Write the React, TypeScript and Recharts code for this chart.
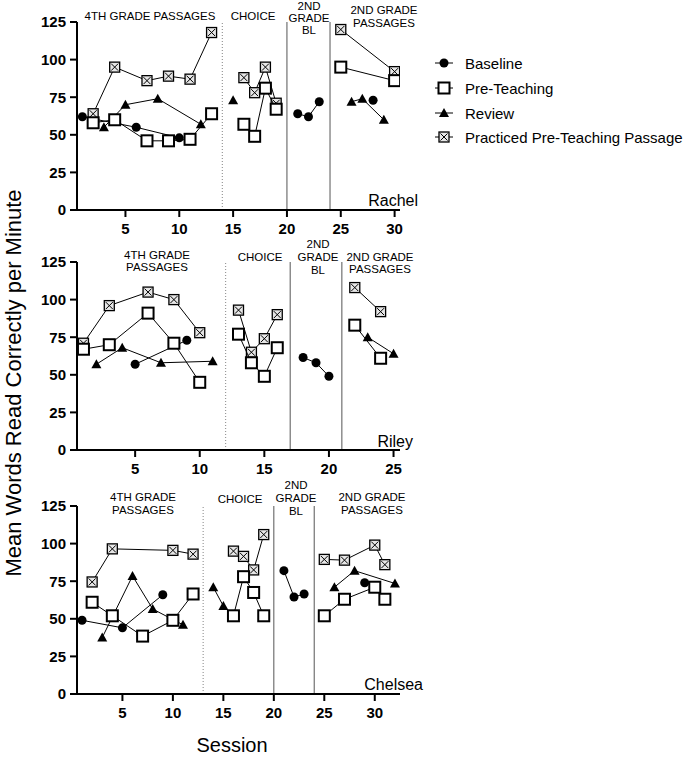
import React from 'react';
import { ScatterChart, Scatter, XAxis, YAxis, ReferenceLine } from 'recharts';

type Pt = [number, number];

// ---------- data ----------
const yTicks = [0, 25, 50, 75, 100, 125];
const seriesNames = ['Baseline', 'Pre-Teaching', 'Review', 'Practiced Pre-Teaching Passage'];

// Rachel
const rachelBaseline: Pt[] = [[1, 62], [6, 55], [10, 48], [21, 64], [22, 62], [23, 72], [28, 73]];
const rachelPreTeaching: Pt[] = [[2, 58], [4, 60], [7, 46], [9, 46], [11, 47], [13, 64], [16, 57], [17, 49], [18, 81], [19, 67], [25, 95], [30, 86]];
const rachelReview: Pt[] = [[3, 55], [5, 70], [8, 74], [12, 57], [15, 73], [26, 72], [27, 74], [29, 60]];
const rachelPracticed: Pt[] = [[2, 64], [4, 95], [7, 86], [9, 89], [11, 87], [13, 118], [16, 88], [17, 78], [18, 95], [19, 71], [25, 120], [30, 92]];
const rachelBreaks = [14, 20, 24];
const rachelTicks = [5, 10, 15, 20, 25, 30];

// Riley
const rileyBaseline: Pt[] = [[5, 57], [9, 73], [18, 61.5], [19, 58], [20, 49]];
const rileyPreTeaching: Pt[] = [[1, 67], [3, 70], [6, 91], [8, 71], [10, 45], [13, 77], [14, 58], [15, 49], [16, 68], [22, 83], [24, 61]];
const rileyReview: Pt[] = [[2, 57], [4, 68], [7, 58], [11, 59], [23, 75], [25, 64]];
const rileyPracticed: Pt[] = [[1, 71], [3, 96], [6, 105], [8, 100], [10, 78], [13, 93], [14, 65], [15, 74], [16, 90], [22, 108], [24, 92]];
const rileyBreaks = [12, 17, 21];
const rileyTicks = [5, 10, 15, 20, 25];

// Chelsea
const chelseaBaseline: Pt[] = [[1, 49], [5, 44], [9, 66], [21, 82], [22, 64.5], [23, 66.5], [29, 74]];
const chelseaPreTeaching: Pt[] = [[2, 61], [4, 52], [7, 38.5], [10, 49], [12, 66.5], [16, 52], [17, 78], [18, 67.5], [19, 52], [25, 52], [27, 63], [30, 71], [31, 63]];
const chelseaReview: Pt[] = [[3, 37.5], [6, 78.5], [8, 56.5], [11, 46], [14, 71], [15, 58.5], [26, 71], [28, 82], [32, 73.5]];
const chelseaPracticed: Pt[] = [[2, 74.5], [4, 96.5], [10, 95.5], [12, 93], [16, 95], [17, 91.5], [18, 82.5], [19, 106], [25, 89.5], [27, 89], [30, 99], [31, 86]];
const chelseaBreaks = [13, 20, 24];
const chelseaTicks = [5, 10, 15, 20, 25, 30];

// ---------- helpers ----------
function segments(points: Pt[], breaks: number[]) {
  const groups: { s: number; v: number }[][] = [];
  for (const [s, v] of points) {
    const phase = breaks.filter((b) => b < s).length;
    if (!groups[phase]) groups[phase] = [];
    groups[phase].push({ s, v });
  }
  return groups.filter(Boolean);
}

const CircleM = (p: any) => <circle cx={p.cx} cy={p.cy} r={4.5} fill="#000" />;
const SquareM = (p: any) => (
  <rect x={p.cx - 5.5} y={p.cy - 5.5} width={11} height={11} fill="#fff" stroke="#000" strokeWidth={2} />
);
const TriM = (p: any) => (
  <polygon points={`${p.cx},${p.cy - 5} ${p.cx + 5},${p.cy + 4} ${p.cx - 5},${p.cy + 4}`} fill="#000" />
);
const XBoxM = (p: any) => (
  <g>
    <rect x={p.cx - 5} y={p.cy - 5} width={10} height={10} fill="#e6e6e6" stroke="#000" strokeWidth={1.3} />
    <path
      d={`M${p.cx - 3.5},${p.cy - 3.5}L${p.cx + 3.5},${p.cy + 3.5}M${p.cx + 3.5},${p.cy - 3.5}L${p.cx - 3.5},${p.cy + 3.5}`}
      stroke="#000"
      strokeWidth={1}
    />
  </g>
);
const shapes = [CircleM, SquareM, TriM, XBoxM];

const axisStyle = { stroke: '#000', strokeWidth: 2 };
const tickStyle = { fill: '#000', fontSize: 15, fontWeight: 700 };

function Panel(props: {
  top: number;
  domain: [number, number];
  ticks: number[];
  breaks: number[];
  series: Pt[][];
}) {
  const { top, domain, ticks, breaks, series } = props;
  const order = [3, 2, 0, 1];
  return (
    <div style={{ position: 'absolute', left: 0, top, width: 420, height: 240 }}>
      <ScatterChart width={420} height={240} margin={{ top: 22, right: 20, bottom: 0, left: 0 }}>
        <XAxis
          type="number"
          dataKey="s"
          domain={domain}
          ticks={ticks}
          allowDataOverflow
          height={30}
          axisLine={axisStyle}
          tickLine={axisStyle}
          tickSize={7}
          tickMargin={6}
          tick={tickStyle}
        />
        <YAxis
          type="number"
          dataKey="v"
          domain={[0, 125]}
          ticks={yTicks}
          width={77}
          axisLine={axisStyle}
          tickLine={axisStyle}
          tickSize={7}
          tickMargin={4}
          tick={tickStyle}
        />
        <ReferenceLine x={breaks[0]} stroke="#999" strokeWidth={1.2} strokeDasharray="1 2" />
        <ReferenceLine x={breaks[1]} stroke="#555" strokeWidth={1} />
        <ReferenceLine x={breaks[2]} stroke="#555" strokeWidth={1} />
        {order.map((si) =>
          segments(series[si], breaks).map((seg, k) => (
            <Scatter
              key={`${si}-${k}`}
              name={seriesNames[si]}
              data={seg}
              line={{ stroke: '#000', strokeWidth: 1 }}
              shape={shapes[si]}
              isAnimationActive={false}
            />
          ))
        )}
      </ScatterChart>
    </div>
  );
}

function Label(props: { lines: string[]; x: number; ys: number[] }) {
  return (
    <>
      {props.lines.map((t, i) => (
        <text key={i} x={props.x} y={props.ys[i]} textAnchor="middle" dominantBaseline="central" fontSize={11.5} fill="#000">
          {t}
        </text>
      ))}
    </>
  );
}

export default function App() {
  const legendYs = [63, 88, 113, 137];
  return (
    <div
      style={{
        position: 'absolute',
        left: 0,
        top: 0,
        width: 685,
        height: 758,
        background: '#fff',
        fontFamily: '"Liberation Sans", Arial, sans-serif',
      }}
    >
      <Panel top={0} domain={[0.5, 30.5]} ticks={rachelTicks} breaks={rachelBreaks}
        series={[rachelBaseline, rachelPreTeaching, rachelReview, rachelPracticed]} />
      <Panel top={240} domain={[0.5, 25.5]} ticks={rileyTicks} breaks={rileyBreaks}
        series={[rileyBaseline, rileyPreTeaching, rileyReview, rileyPracticed]} />
      <Panel top={484} domain={[0.5, 32.5]} ticks={chelseaTicks} breaks={chelseaBreaks}
        series={[chelseaBaseline, chelseaPreTeaching, chelseaReview, chelseaPracticed]} />

      <svg width={685} height={758} style={{ position: 'absolute', left: 0, top: 0, pointerEvents: 'none' }}>
        {/* phase labels: Rachel */}
        <Label lines={['4TH GRADE PASSAGES']} x={150} ys={[16]} />
        <Label lines={['CHOICE']} x={253} ys={[16]} />
        <Label lines={['2ND', 'GRADE', 'BL']} x={309} ys={[6, 18, 30]} />
        <Label lines={['2ND GRADE', 'PASSAGES']} x={384} ys={[10, 22.5]} />
        {/* Riley */}
        <Label lines={['4TH GRADE', 'PASSAGES']} x={157} ys={[255, 267]} />
        <Label lines={['CHOICE']} x={260} ys={[257]} />
        <Label lines={['2ND', 'GRADE', 'BL']} x={318} ys={[244, 257, 270]} />
        <Label lines={['2ND GRADE', 'PASSAGES']} x={380} ys={[257, 268.5]} />
        {/* Chelsea */}
        <Label lines={['4TH GRADE', 'PASSAGES']} x={143} ys={[497, 510]} />
        <Label lines={['CHOICE']} x={240} ys={[499]} />
        <Label lines={['2ND', 'GRADE', 'BL']} x={296} ys={[485, 497.5, 510.5]} />
        <Label lines={['2ND GRADE', 'PASSAGES']} x={372} ys={[497, 509.5]} />

        {/* participant names */}
        <text x={418} y={200} textAnchor="end" dominantBaseline="central" fontSize={16}>Rachel</text>
        <text x={413} y={441} textAnchor="end" dominantBaseline="central" fontSize={16}>Riley</text>
        <text x={423} y={684} textAnchor="end" dominantBaseline="central" fontSize={16}>Chelsea</text>

        {/* axis titles */}
        <text x={232} y={745} textAnchor="middle" dominantBaseline="central" fontSize={20}>Session</text>
        <text
          x={0}
          y={0}
          transform="translate(13,383) rotate(-90)"
          textAnchor="middle"
          dominantBaseline="central"
          fontSize={22}
        >
          Mean Words Read Correctly per Minute
        </text>

        {/* legend */}
        {seriesNames.map((n, i) => {
          const Shape = shapes[i];
          const y = legendYs[i];
          return (
            <g key={n}>
              <line x1={435} x2={453} y1={y} y2={y} stroke="#000" strokeWidth={1} />
              <Shape cx={444} cy={y} />
              <text x={465} y={y} dominantBaseline="central" fontSize={15}>{n}</text>
            </g>
          );
        })}
      </svg>
    </div>
  );
}
